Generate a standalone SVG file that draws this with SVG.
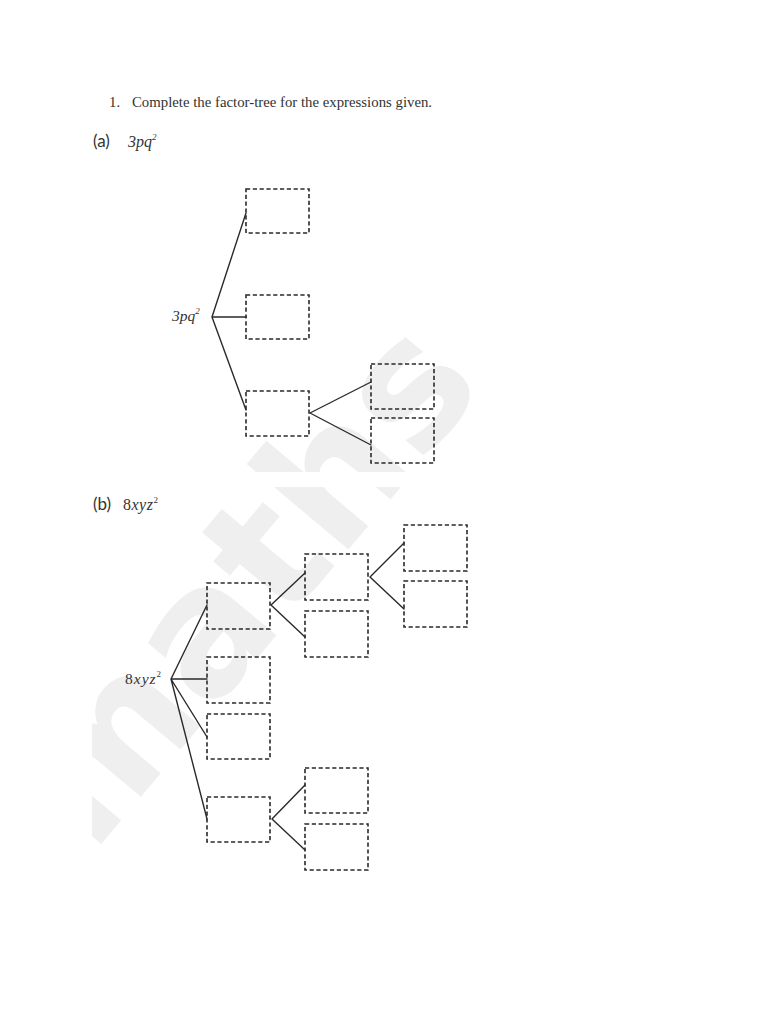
<svg xmlns="http://www.w3.org/2000/svg" width="768" height="1024" viewBox="0 0 768 1024">
<defs>
<style>
.box{fill:none;stroke:#2a2a2a;stroke-width:1.6;stroke-dasharray:4.2 2.6}
.ln{fill:none;stroke:#2a2a2a;stroke-width:1.4;stroke-linecap:round}
.serif{font-family:"Liberation Serif","Times New Roman",serif;fill:#333}
.sans{font-family:Lato,"Open Sans","Liberation Sans",sans-serif;fill:#333}
.wm{font-family:"DejaVu Sans",sans-serif;font-weight:bold;fill:#efefef}
</style>
<clipPath id="wmclip">
<rect x="92" y="170" width="390" height="302"/>
<rect x="92" y="487" width="390" height="390"/>
</clipPath>
</defs>
<rect width="768" height="1024" fill="#ffffff"/>
<g id="watermark" clip-path="url(#wmclip)">
<text class="wm" font-size="175" transform="translate(92,855) rotate(-50)">maths</text>
</g>
<g id="header">
<text class="serif" x="109" y="107" font-size="14.8">1.</text>
<text class="serif" x="132" y="107" font-size="14.8">Complete the factor-tree for the expressions given.</text>
<text class="sans" x="93" y="147" font-size="17">(a)</text>
<text class="serif" x="128" y="147" font-size="16" font-style="italic">3pq<tspan font-size="9" dy="-7">2</tspan></text>
<text class="sans" x="93" y="510" font-size="17">(b)</text>
<text class="serif" x="123" y="510" font-size="16" letter-spacing="0.5"><tspan>8</tspan><tspan font-style="italic">xyz</tspan><tspan font-size="9" dy="-7">2</tspan></text>
</g>
<g id="connectors">
<path class="ln" d="M212 317 L246 213 M212 317 L246 317 M212 317 L246 410"/>
<path class="ln" d="M310 413 L371 382 M310 413 L371 445"/>
<path class="ln" d="M171 679 L207 605 M171 679 L207 679 M171 679 L207 737 M171 679 L207 819"/>
<path class="ln" d="M271 605 L305 573 M271 605 L305 637"/>
<path class="ln" d="M370 577 L404 543 M370 577 L404 609"/>
<path class="ln" d="M272 819 L305 785 M272 819 L305 850"/>
</g>
<g id="node-a-root"><text class="serif" x="172" y="321" font-size="15.5" font-style="italic">3pq<tspan font-size="9" dy="-7">2</tspan></text></g>
<g id="node-a1"><rect class="box" x="246" y="189" width="63" height="44"/></g>
<g id="node-a2"><rect class="box" x="246" y="295" width="63" height="44"/></g>
<g id="node-a3"><rect class="box" x="246" y="391" width="63" height="45"/></g>
<g id="node-a4"><rect class="box" x="371" y="364" width="63" height="45"/></g>
<g id="node-a5"><rect class="box" x="371" y="418" width="63" height="45"/></g>
<g id="node-b-root"><text class="serif" x="125" y="684" font-size="15.5" letter-spacing="1"><tspan>8</tspan><tspan font-style="italic">xyz</tspan><tspan font-size="9" dy="-7">2</tspan></text></g>
<g id="node-b1"><rect class="box" x="207" y="583" width="63" height="46"/></g>
<g id="node-b2"><rect class="box" x="207" y="657" width="63" height="46"/></g>
<g id="node-b3"><rect class="box" x="207" y="714" width="63" height="45"/></g>
<g id="node-b4"><rect class="box" x="207" y="797" width="63" height="45"/></g>
<g id="node-b5"><rect class="box" x="305" y="554" width="63" height="46"/></g>
<g id="node-b6"><rect class="box" x="305" y="611" width="63" height="46"/></g>
<g id="node-b7"><rect class="box" x="305" y="768" width="63" height="45"/></g>
<g id="node-b8"><rect class="box" x="305" y="824" width="63" height="46"/></g>
<g id="node-b9"><rect class="box" x="404" y="525" width="63" height="46"/></g>
<g id="node-b10"><rect class="box" x="404" y="581" width="63" height="46"/></g>
</svg>
